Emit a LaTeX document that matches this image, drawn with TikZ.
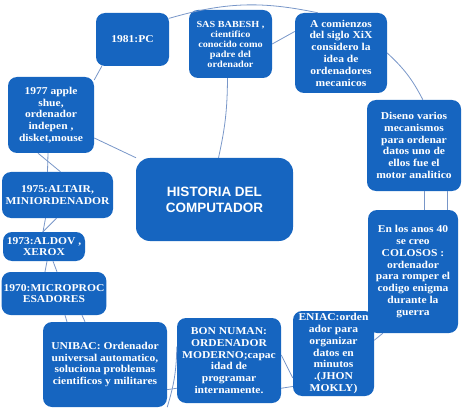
\documentclass[tikz,border=0pt]{standalone}
\usepackage{fontspec}
\usepackage{tikz}
\setmainfont{Liberation Serif}[FakeStretch=1.1]
\newfontfamily\hubfont{Liberation Sans}
\definecolor{cajaazul}{RGB}{22,101,192}
\definecolor{lineaazul}{RGB}{120,150,200}

\begin{document}
\begin{tikzpicture}[x=1pt,y=-1pt,
    evento/.style={fill=cajaazul, rounded corners=9pt, text=white, align=center, inner sep=2pt,
        font=\bfseries\fontsize{10.5}{11.8}\selectfont},
    enlace/.style={draw=lineaazul, line width=0.8pt}]
    \useasboundingbox (0,0) rectangle (474,409);

    % Centro.
    \node[evento, rounded corners=14pt, minimum width=157pt, minimum height=83pt,
        font=\hubfont\bfseries\fontsize{13.5}{16}\selectfont] (hub) at (214.5,199.5) {HISTORIA DEL\\COMPUTADOR};

    % Eventos alrededor.
    \node[evento, minimum width=73pt, minimum height=53pt] (pc) at (132.5,39.5) {1981:PC};
    \node[evento, minimum width=83pt, minimum height=68pt, font=\bfseries\fontsize{9.3}{10}\selectfont] (sas) at (230.5,44) {SAS BABESH ,\\cientifico\\conocido como\\padre del\\ordenador};
    \node[evento, minimum width=92pt, minimum height=80pt] (comienzos) at (341,53) {A comienzos\\del siglo XiX\\considero la\\idea de\\ordenadores\\mecanicos};
    \node[evento, minimum width=94pt, minimum height=91pt] (diseno) at (414,145.5) {Diseno varios\\mecanismos\\para ordenar\\datos uno de\\ellos fue el\\motor analitico};
    \node[evento, minimum width=90pt, minimum height=123pt] (anos) at (413,271.5) {En los anos 40\\se creo\\COLOSOS :\\ordenador\\para romper el\\codigo enigma\\durante la\\guerra};
    \node[evento, minimum width=81pt, minimum height=85pt] (eniac) at (333.5,353.5) {ENIAC:orden\\ador para\\organizar\\datos en\\minutos\\.(JHON\\MOKLY)};
    \node[evento, minimum width=104pt, minimum height=85pt] (bon) at (229,360.5) {BON NUMAN:\\ORDENADOR\\MODERNO;capac\\idad de\\programar\\internamente.};
    \node[evento, minimum width=124pt, minimum height=85pt] (unibac) at (105,364.5) {UNIBAC: Ordenador\\universal automatico,\\soluciona problemas\\cientificos y militares};
    \node[evento, minimum width=104pt, minimum height=43pt] (micro) at (54,293.5) {1970:MICROPROC\\ESADORES};
    \node[evento, minimum width=82pt, minimum height=29pt] (aldov) at (44,246.5) {1973:ALDOV ,\\XEROX};
    \node[evento, minimum width=111pt, minimum height=46pt] (altair) at (57.5,195) {1975:ALTAIR,\\MINIORDENADOR};
    \node[evento, minimum width=86pt, minimum height=76pt] (apple) at (51,115) {1977 apple\\shue,\\ordenador\\indepen ,\\disket,mouse};

    % Enlaces.
    \draw[enlace] (pc.30) to[bend left=14] (comienzos.120);
    \draw[enlace] (sas.east) -- (comienzos.155);
    \draw[enlace] (comienzos.east) to[bend left=10] (diseno.79);
    \draw[enlace] ([xshift=10pt]diseno.south) -- ([xshift=11pt]anos.north);
    \draw[enlace] ([xshift=33pt]diseno.south) -- ([xshift=34pt]anos.north);
    \draw[enlace] (anos.244) -- (eniac.18);
    \draw[enlace] (bon.6) -- (eniac.211);
    \draw[enlace] (bon.-28) -- (eniac.219);
    \draw[enlace] (unibac.south east) to[bend right=8] (bon.165);
    \draw[enlace] (unibac.-22) -- (bon.208);
    \draw[enlace] ([xshift=11pt]micro.south) -- ([xshift=-38pt]unibac.north);
    \draw[enlace] ([xshift=28pt]micro.south) -- ([xshift=-20pt]unibac.north);
    \draw[enlace] ([xshift=3pt]aldov.south) -- ([xshift=-9pt]micro.north);
    \draw[enlace] ([xshift=9pt]aldov.south) -- ([xshift=3pt]micro.north);
    \draw[enlace] ([xshift=-12pt]altair.south) -- ([xshift=-1pt]aldov.north);
    \draw[enlace] ([xshift=-1pt]altair.south) -- ([xshift=-1pt]aldov.north);
    \draw[enlace] ([xshift=-13pt]apple.south) -- ([xshift=3pt]altair.north);
    \draw[enlace] ([xshift=-3pt]apple.south) -- ([xshift=-10pt]altair.north);
    \draw[enlace] (apple.39) -- (pc.221);
    \draw[enlace] (apple.-28) -- (hub.152);
    \draw[enlace] ([xshift=-3pt]sas.south) to[bend left=6] ([xshift=4pt]hub.north);
\end{tikzpicture}
\end{document}
